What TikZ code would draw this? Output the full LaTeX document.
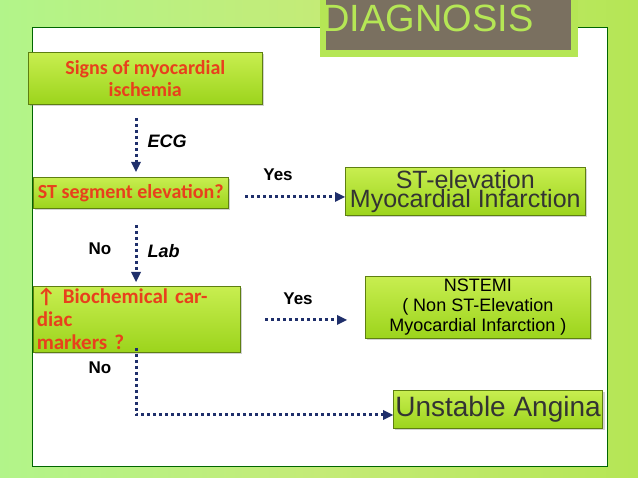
\documentclass[tikz,border=0pt]{standalone}
\usepackage{fontspec}
\setmainfont{Liberation Sans}
\newfontfamily\carlitofont{Carlito}
\usetikzlibrary{arrows.meta,shadows}
\definecolor{lg}{HTML}{B5E655}
\definecolor{bx}{HTML}{9CD41C}
\definecolor{bxt}{HTML}{C8EE50}
\definecolor{navy}{HTML}{1F2F6B}
\definecolor{redt}{HTML}{E8401C}
\begin{document}
\begin{tikzpicture}[x=1pt,y=-1pt,
 box/.style={draw=bx!60!black,line width=0.6pt,top color=bxt,bottom color=bx,drop shadow={opacity=0.35,shadow xshift=2pt,shadow yshift=-2pt},inner sep=2pt,anchor=north west},
 rbox/.style={box,font=\carlitofont\bfseries\fontsize{20}{22}\selectfont,text=redt,align=center},
 arr/.style={draw=navy,line width=3pt,dash pattern=on 3pt off 3pt,-{Triangle[length=10pt,width=10pt,line width=0pt]}},
 lab/.style={font=\bfseries\fontsize{17}{19}\selectfont,text=black},
 ilab/.style={font=\itshape\bfseries\fontsize{18}{20}\selectfont,text=black}]
\useasboundingbox (0,0) rectangle (638,478);
\fill[left color=lg!70!green!60,right color=lg,middle color=lg!80!white] (0,0) rectangle (638,478);
\draw[fill=white,draw=green!40!black,line width=1pt] (32,28) rectangle (607,467);
\draw[fill=lg,draw=lg] (320,-2) rectangle (577,56);
\fill[fill={rgb,255:red,122;green,112;blue,96}] (326,-2) rectangle (571,50);
\node[font=\fontsize{38}{40}\selectfont,text=lg] at (428,18) {DIAGNOSIS};
\node[rbox,minimum width=234pt,minimum height=52pt] (b1) at (28,52) {Signs of myocardial\\ischemia};
\node[rbox,minimum width=195pt,minimum height=31pt] (b2) at (33,177) {ST segment elevation?};
\node[box,minimum width=240pt,minimum height=48pt,align=center,font=\fontsize{25}{18}\selectfont,text=black!80] (b3) at (345,167) {ST-elevation\\Myocardial Infarction};
\node[box,minimum width=207pt,minimum height=52pt,align=left,font=\carlitofont\bfseries\fontsize{21}{23}\selectfont,text=redt,text width=200pt] (b4) at (33,286) {↑ Biochemical cardiac\\markers ?};
\node[box,minimum width=225pt,minimum height=62pt,align=center,font=\fontsize{18}{20}\selectfont] (b5) at (365,276) {NSTEMI\\( Non ST-Elevation\\Myocardial Infarction )};
\node[box,minimum width=184pt,minimum height=38pt,font=\fontsize{28}{30}\selectfont,text=black!80] (b6) at (393,390) {Unstable Angina};
\coordinate (a1s) at (136,118); \coordinate (a1e) at (136,172);
\coordinate (a2s) at (136,225); \coordinate (a2e) at (136,282);
\coordinate (c1) at (136,348); \coordinate (c2) at (136,415);
\coordinate (y1s) at (245,197); \coordinate (y2s) at (265,320); \coordinate (y2e) at (347,320);
\draw[arr] (a1s) -- (a1e);
\draw[arr] (a2s) -- (a2e);
\draw[arr] (y1s) -- (b3.west|-y1s);
\draw[arr] (y2s) -- (y2e);
\draw[arr] (c1) -- (c2) -- (b6.west|-c2);
\node[ilab,anchor=west] at (144,141) {ECG};
\node[ilab,anchor=west] at (144,251) {Lab};
\node[lab] at (278,175) {Yes};
\node[lab] at (298,299) {Yes};
\node[lab] at (100,249) {No};
\node[lab] at (100,368) {No};
\end{tikzpicture}
\end{document}
